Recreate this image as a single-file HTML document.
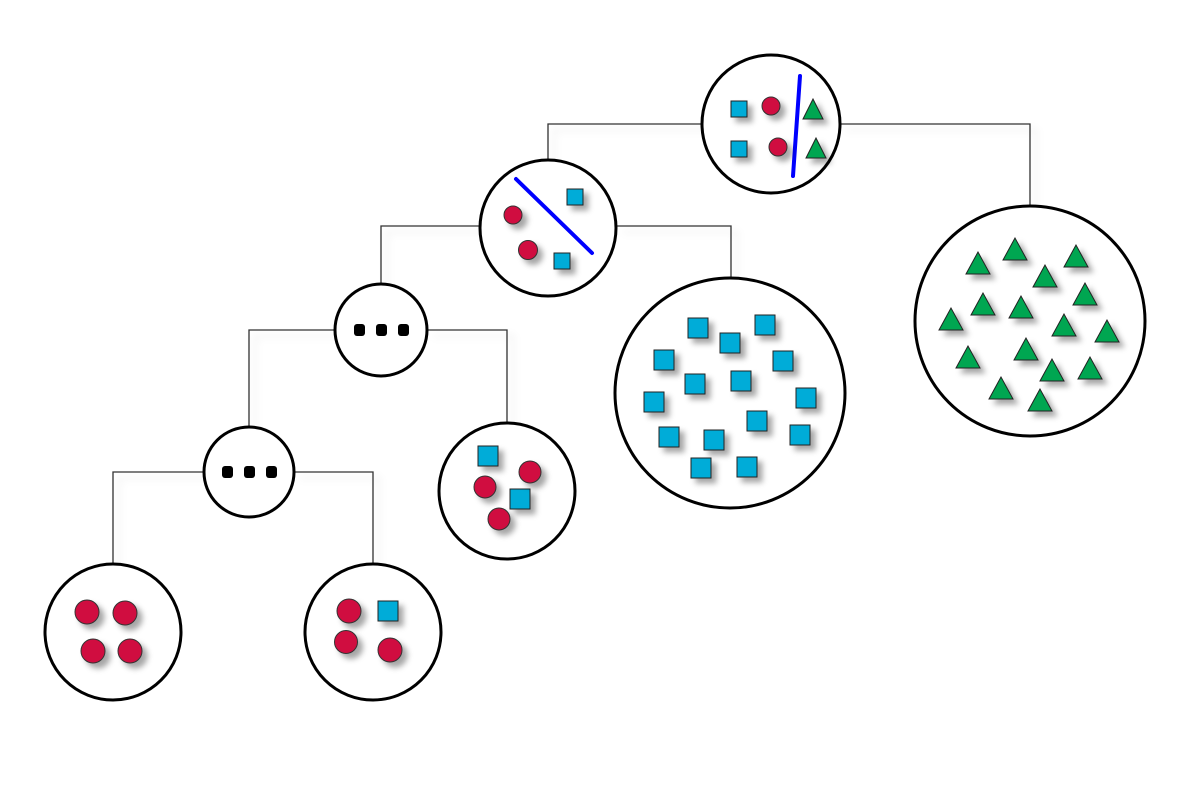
<!DOCTYPE html>
<html><head><meta charset="utf-8"><style>body{margin:0;background:#fff}svg{display:block}</style></head><body>
<svg width="1196" height="788" viewBox="0 0 1196 788" xmlns="http://www.w3.org/2000/svg">
<defs>
<filter id="sh" x="-50%" y="-50%" width="200%" height="200%"><feDropShadow dx="5" dy="5" stdDeviation="3" flood-color="#000" flood-opacity="0.35"/></filter>
<filter id="ls" x="-10%" y="-10%" width="120%" height="120%"><feDropShadow dx="6" dy="6" stdDeviation="4" flood-color="#000" flood-opacity="0.12"/></filter>
</defs>
<g fill="none" stroke="#333" stroke-width="1.3" filter="url(#ls)">
<polyline points="702,124 548,124 548,162"/>
<polyline points="840,124 1030,124 1030,206"/>
<polyline points="479,226 381,226 381,284"/>
<polyline points="617,226 731,226 731,278"/>
<polyline points="335,330 249,330 249,427"/>
<polyline points="427,330 507,330 507,423"/>
<polyline points="204,472 113,472 113,564"/>
<polyline points="294,472 373,472 373,564"/>
</g>
<g fill="#fff" stroke="#000" stroke-width="3">
<circle cx="771" cy="124" r="69"/>
<circle cx="548" cy="228" r="68"/>
<circle cx="381" cy="330" r="46"/>
<circle cx="249" cy="472" r="45"/>
<circle cx="113" cy="632" r="68"/>
<circle cx="373" cy="632" r="68"/>
<circle cx="507" cy="491" r="68"/>
<circle cx="730" cy="393" r="115"/>
<circle cx="1030" cy="321" r="115"/>
</g>
<g fill="#000">
<rect x="354" y="324" width="11" height="12" rx="3"/><rect x="376" y="324" width="11" height="12" rx="3"/><rect x="398" y="324" width="11" height="12" rx="3"/>
<rect x="222" y="466" width="11" height="12" rx="3"/><rect x="244" y="466" width="11" height="12" rx="3"/><rect x="266" y="466" width="11" height="12" rx="3"/>
</g>
<g stroke="#00f" stroke-width="4" stroke-linecap="round">
<line x1="800" y1="76" x2="793" y2="176"/>
<line x1="516" y1="179" x2="592" y2="253"/>
</g>
<g fill="#00acd8" stroke="#222" stroke-width="1" filter="url(#sh)">
<rect x="731" y="101" width="16" height="16"/><rect x="731" y="141" width="16" height="16"/>
<rect x="567" y="189" width="16" height="16"/><rect x="554" y="253" width="16" height="16"/>
<rect x="478" y="446" width="20" height="20"/><rect x="510" y="489" width="20" height="20"/>
<rect x="378" y="601" width="20" height="20"/>
<rect x="688" y="318" width="20" height="20"/><rect x="755" y="315" width="20" height="20"/><rect x="720" y="333" width="20" height="20"/><rect x="654" y="350" width="20" height="20"/><rect x="773" y="351" width="20" height="20"/><rect x="685" y="374" width="20" height="20"/><rect x="731" y="371" width="20" height="20"/><rect x="644" y="392" width="20" height="20"/><rect x="796" y="388" width="20" height="20"/><rect x="747" y="411" width="20" height="20"/><rect x="659" y="427" width="20" height="20"/><rect x="704" y="430" width="20" height="20"/><rect x="790" y="425" width="20" height="20"/><rect x="691" y="458" width="20" height="20"/><rect x="737" y="457" width="20" height="20"/>
</g>
<g fill="#d0103f" stroke="#333" stroke-width="1" filter="url(#sh)">
<circle cx="771" cy="106" r="9"/><circle cx="778" cy="147" r="9"/>
<circle cx="513" cy="215" r="9"/><circle cx="528" cy="250" r="9.5"/>
<circle cx="530" cy="472" r="11"/><circle cx="485" cy="487" r="11"/><circle cx="499" cy="519" r="11"/>
<circle cx="87" cy="612" r="12"/><circle cx="125" cy="613" r="12"/><circle cx="93" cy="651" r="12"/><circle cx="130" cy="651" r="12"/>
<circle cx="349" cy="611" r="12"/><circle cx="346" cy="642" r="11.5"/><circle cx="390" cy="650" r="12"/>
</g>
<g fill="#00a651" stroke="#222" stroke-width="1" filter="url(#sh)">
<polygon points="813,99 803,119 823,119"/><polygon points="816,138 806,158 826,158"/>
<g transform="translate(0,0)">
<polygon points="978,252 966,274 990,274"/><polygon points="1015,238 1003,260 1027,260"/><polygon points="1076,245 1064,267 1088,267"/><polygon points="1045,265 1033,287 1057,287"/><polygon points="1085,283 1073,305 1097,305"/><polygon points="983,293 971,315 995,315"/><polygon points="1021,296 1009,318 1033,318"/><polygon points="951,308 939,330 963,330"/><polygon points="1064,314 1052,336 1076,336"/><polygon points="1107,320 1095,342 1119,342"/><polygon points="968,346 956,368 980,368"/><polygon points="1026,338 1014,360 1038,360"/><polygon points="1052,359 1040,381 1064,381"/><polygon points="1090,357 1078,379 1102,379"/><polygon points="1001,377 989,399 1013,399"/><polygon points="1040,389 1028,411 1052,411"/>
</g>
</g>
</svg>
</body></html>
